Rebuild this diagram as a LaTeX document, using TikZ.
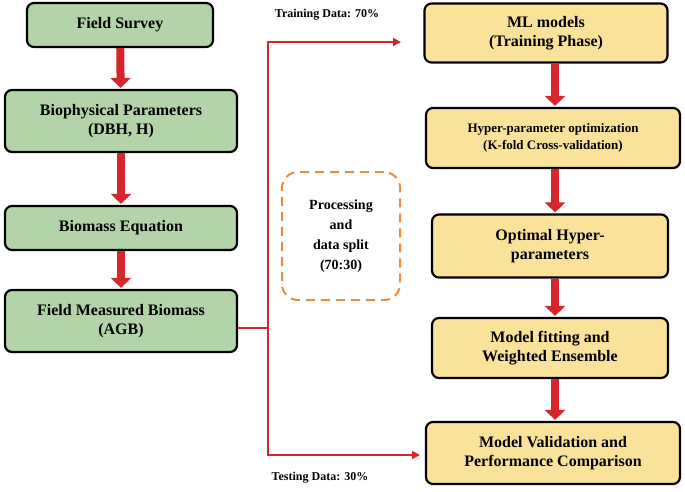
\documentclass[tikz,border=0pt]{standalone}
\usepackage{fontspec}
\setmainfont{Liberation Serif}
\usetikzlibrary{arrows.meta}
\definecolor{gbox}{HTML}{B3D4A8}
\definecolor{ybox}{HTML}{FBE29A}
\definecolor{redc}{HTML}{D7262B}
\definecolor{orng}{HTML}{EE8A3C}
\begin{document}
\begin{tikzpicture}[x=1pt,y=-1pt,
  box/.style={draw=black,line width=2.2pt,rounded corners=7pt,align=center,font=\fontsize{16}{19}\selectfont\bfseries,inner sep=0pt},
  gb/.style={box,fill=gbox},
  yb/.style={box,fill=ybox},
  blk/.style={draw=redc,line width=8pt,-{Triangle[width=20pt,length=10pt]},shorten >=1pt},
  split/.style={draw=redc,line width=1.6pt},
  lbl/.style={font=\fontsize{12}{14}\selectfont\bfseries}]
\useasboundingbox (0,0) rectangle (685,492);
\node[gb,minimum width=186,minimum height=44] (fs) at (120,25) {Field Survey};
\node[gb,minimum width=232,minimum height=62] (bp) at (121,121) {Biophysical Parameters\\(DBH, H)};
\node[gb,minimum width=232,minimum height=44] (be) at (121,228) {Biomass Equation};
\node[gb,minimum width=232,minimum height=62] (fm) at (121,321) {Field Measured Biomass\\(AGB)};
\node[yb,minimum width=243,minimum height=59] (ml) at (546,33) {ML models\\(Training Phase)};
\node[yb,minimum width=254,minimum height=60,font=\fontsize{13}{17}\selectfont\bfseries] (hp) at (553,138) {Hyper-parameter optimization\\(K-fold Cross-validation)};
\node[yb,minimum width=236,minimum height=63] (op) at (550,246) {Optimal Hyper-\\parameters};
\node[yb,minimum width=236,minimum height=60] (mf) at (550,348) {Model fitting and\\Weighted Ensemble};
\node[yb,minimum width=254,minimum height=62] (mv) at (553,453) {Model Validation and\\Performance Comparison};
\draw[blk] (fs) -- (bp);
\draw[blk] (bp) -- (be);
\draw[blk] (be) -- (fm);
\draw[blk] (ml.south -| 555,0) -- (hp.north -| 555,0);
\draw[blk] (hp.south -| 555,0) -- (op.north -| 555,0);
\draw[blk] (op.south -| 555,0) -- (mf.north -| 555,0);
\draw[blk] (mf.south -| 555,0) -- (mv.north -| 555,0);
\coordinate (j) at (268,328);
\coordinate (tr) at (401,42);
\coordinate (te) at (420,455);
\draw[split] (fm.east |- j) -- (j);
\draw[split,-{Triangle[width=8pt,length=8pt]}] (j) |- (tr);
\draw[split,-{Triangle[width=8pt,length=8pt]}] (j) |- (te);
\node[lbl] (trl) at (327,15) {Training Data: 70\%};
\node[lbl] (tel) at (320,478) {Testing Data: 30\%};
\node[draw=orng,line width=2pt,dash pattern=on 9pt off 6pt,rounded corners=16pt,minimum width=118,minimum height=128,align=center,font=\fontsize{14}{20}\selectfont\bfseries,inner sep=0pt] (pd) at (341,236) {Processing\\and\\data split\\(70:30)};
\end{tikzpicture}
\end{document}
